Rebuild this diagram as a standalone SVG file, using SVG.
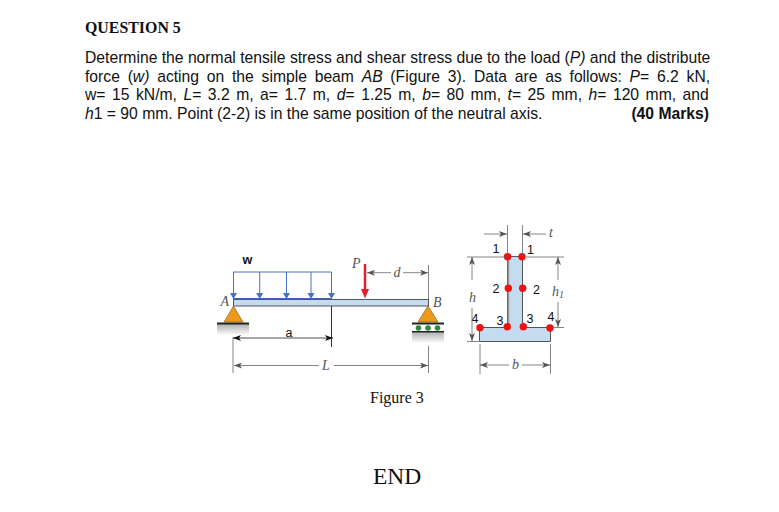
<svg xmlns="http://www.w3.org/2000/svg" width="779" height="512" viewBox="0 0 779 512">
<style>
.b{font-family:"Liberation Sans",Arial,sans-serif;font-size:15.7px;fill:#111}
.s{font-family:"Liberation Serif","Times New Roman",serif;fill:#111}
.i{font-style:italic}
.lab{font-family:"Liberation Serif","Times New Roman",serif;font-style:italic;font-size:14px;fill:#555}
.n{font-family:"Liberation Sans",Arial,sans-serif;font-size:12.5px;fill:#111}
.dim{stroke:#666;stroke-width:.8;fill:none}
.blk{stroke:#333;stroke-width:1;fill:none}
.blue{stroke:#4472c4;stroke-width:1;fill:none}
.dot{fill:#f01010}
</style>
<defs>
<linearGradient id="g" x1="0" y1="0" x2="0" y2="1"><stop offset="0" stop-color="#b0b0b0"/><stop offset="1" stop-color="#f4f4f4"/></linearGradient>
<marker id="a" viewBox="0 0 8 6" refX="8" refY="3" markerWidth="8" markerHeight="6" orient="auto-start-reverse" markerUnits="userSpaceOnUse"><path d="M0 0L8 3L0 6L2 3Z" fill="#555"/></marker>
<marker id="k" viewBox="0 0 8 6" refX="8" refY="3" markerWidth="8" markerHeight="7" orient="auto-start-reverse" markerUnits="userSpaceOnUse"><path d="M0 0L8 3L0 6L2 3Z" fill="#111"/></marker>
</defs>
<rect width="779" height="512" fill="#fff"/>
<g id="text">
<text class="s" x="85" y="33" font-size="15.900" font-weight="bold">QUESTION 5</text>
<text class="b" x="85" y="63">Determine the normal tensile stress and shear stress due to the load (<tspan class="i">P)</tspan> and the distribute</text>
<text class="b" x="85" y="82" word-spacing="3.400">force (<tspan class="i">w)</tspan> acting on the simple beam <tspan class="i">AB</tspan> (Figure 3). Data are as follows: <tspan class="i">P</tspan>= 6.2 kN,</text>
<text class="b" x="85" y="100" word-spacing="2.150">w= 15 kN/m, <tspan class="i">L</tspan>= 3.2 m, a= 1.7 m, <tspan class="i">d</tspan>= 1.25 m, <tspan class="i">b</tspan>= 80 mm, <tspan class="i">t</tspan>= 25 mm, <tspan class="i">h</tspan>= 120 mm, and</text>
<text class="b" x="85" y="118.500"><tspan class="i">h</tspan>1 = 90 mm. Point (2-2) is in the same position of the neutral axis.</text>
<text class="b" x="709" y="118.500" text-anchor="end" font-weight="bold">(40 Marks)</text>
<text class="s" x="370" y="403" font-size="16">Figure 3</text>
<text class="s" x="373" y="484" font-size="23.500">END</text>
</g>
<g id="beam">
<rect x="233.500" y="299.500" width="195" height="6.500" fill="#c5dcf0" stroke="#555" stroke-width="1"/>
<text class="lab" x="220.500" y="306">A</text>
<text class="lab" x="433" y="307">B</text>
</g>
<g id="support-a">
<rect x="217" y="324" width="32" height="10" fill="url(#g)"/>
<path d="M233.500 306L243 322H224Z" fill="#ec9a1c" stroke="#7a5a18" stroke-width=".6"/>
<rect x="217" y="322.500" width="32" height="2" fill="#222"/>
</g>
<g id="support-b">
<rect x="412" y="332" width="32" height="10" fill="url(#g)"/>
<path d="M428 306L438 322H418Z" fill="#ec9a1c" stroke="#7a5a18" stroke-width=".6"/>
<rect x="412" y="322.500" width="32" height="2" fill="#222"/>
<circle cx="418.500" cy="328" r="2.800" fill="#2e8b3c"/><circle cx="428" cy="328" r="2.800" fill="#2e8b3c"/><circle cx="437.500" cy="328" r="2.800" fill="#2e8b3c"/>
<rect x="412" y="331" width="32" height="1.500" fill="#222"/>
</g>
<g id="load-w">
<text class="n" x="242.500" y="264" font-weight="bold" font-size="11.500">w</text>
<path class="blue" d="M233.500 272H331.500" stroke-width="1.200"/>
<path d="M233 298.700H331.500" stroke="#3d66ad" stroke-width="1.200"/>
<path class="blue" d="M233.500 272V293M259.700 272V293M286.500 272V293M311 272V293M331.500 272V293"/>
<path fill="#4472c4" d="M230 293h7l-3.500 6ZM256.200 293h7l-3.500 6ZM283 293h7l-3.500 6ZM307.500 293h7l-3.500 6ZM328 293h7l-3.500 6Z"/>
</g>
<g id="load-p">
<text class="lab" x="352" y="268">P</text>
<path d="M365 264V291" stroke="#e0202c" stroke-width="2.500"/>
<path d="M361 289H369L365 298.500Z" fill="#e0202c"/>
</g>
<g id="section">
<path d="M507.500 256.500H522.500V327.500H550.500V341.500H479.500V327.500H507.500Z" fill="#c5dcf0" stroke="#555" stroke-width="1"/>
<path d="M508.500 257V327" stroke="#999" stroke-width="1.500"/>
<g class="dot">
<circle cx="507.500" cy="256.700" r="3.700"/><circle cx="522" cy="256.700" r="3.700"/>
<circle cx="508.300" cy="288.300" r="3.700"/><circle cx="522.700" cy="288.300" r="3.700"/>
<circle cx="480" cy="327.700" r="3.700"/><circle cx="507.300" cy="326.700" r="3.700"/>
<circle cx="523.300" cy="326.700" r="3.700"/><circle cx="550" cy="328" r="3.700"/>
</g>
<text class="n" x="492.500" y="253">1</text><text class="n" x="527" y="254">1</text>
<text class="n" x="492.500" y="293">2</text><text class="n" x="533" y="294">2</text>
<text class="n" x="471.500" y="323">4</text><text class="n" x="496.500" y="325">3</text>
<text class="n" x="526.500" y="323">3</text><text class="n" x="547.500" y="321">4</text>
<text class="lab" x="469" y="302">h</text>
<text class="lab" x="552" y="296">h<tspan font-size="10" dy="2">1</tspan></text>
<text class="lab" x="549" y="237">t</text>
<text class="lab" x="512" y="369">b</text>
</g>
<g id="connectors">
<path class="blk" d="M331.500 306V347"/>
<path class="dim" d="M428.500 265V299M428.500 346V373M233 337V373"/>
<path class="dim" d="M391 272.700H367" marker-end="url(#a)"/>
<path class="dim" d="M403 272.700H428" marker-end="url(#a)"/>
<text class="lab" x="393.500" y="277">d</text>
<path d="M233 338H333" stroke="#222" stroke-width=".8" marker-start="url(#k)" marker-end="url(#k)"/>
<text class="n" x="285.500" y="336.500">a</text>
<path class="dim" d="M319 365.500H234" marker-end="url(#a)"/>
<path class="dim" d="M334 365.500H428" marker-end="url(#a)"/>
<text class="lab" x="322" y="370">L</text>
<path class="dim" d="M507.500 225V256M522.500 225V256"/>
<path class="dim" d="M484 234H507" marker-end="url(#a)"/>
<path class="dim" d="M546 234H523" marker-end="url(#a)"/>
<path class="dim" d="M467 257H507M467 341.500H479M526 257H564M553 327.500H564"/>
<path class="dim" d="M472 280V257" marker-end="url(#a)"/>
<path class="dim" d="M472 308V341" marker-end="url(#a)"/>
<path class="dim" d="M558 280V257" marker-end="url(#a)"/>
<path class="dim" d="M558 302V327" marker-end="url(#a)"/>
<path class="dim" d="M480 344V374M550.500 344V374"/>
<path class="dim" d="M509 365H480" marker-end="url(#a)"/>
<path class="dim" d="M522 365H550" marker-end="url(#a)"/>
</g>
</svg>
